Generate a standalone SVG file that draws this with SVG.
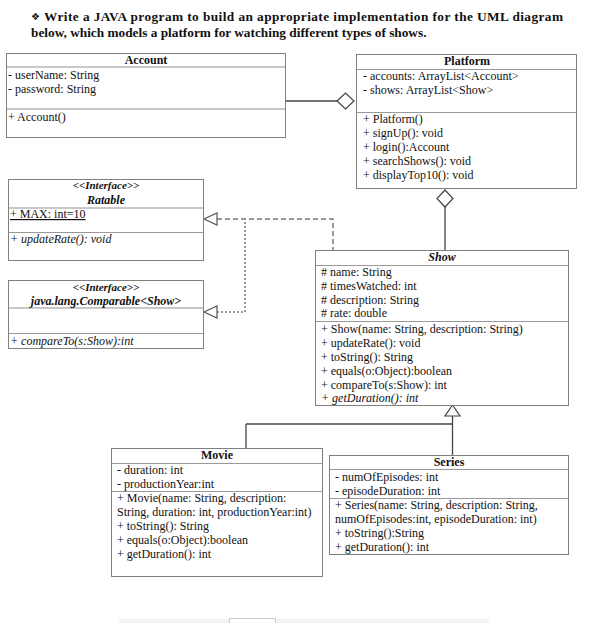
<svg xmlns="http://www.w3.org/2000/svg" width="601" height="623" viewBox="0 0 601 623">
<style>
text{font-family:"Liberation Serif","Times New Roman",serif;font-size:12px;fill:#111}
.t{font-weight:bold;text-anchor:middle}
.bi{font-weight:bold;font-style:italic;text-anchor:middle}
.st{font-weight:bold;font-style:italic;text-anchor:middle;font-size:11px}
.i{font-style:italic}
.ttl{font-family:"Liberation Serif",serif;font-weight:bold;font-size:13.3px}
.sym{font-family:"DejaVu Sans",sans-serif;font-size:10px;font-weight:normal}
.box{fill:#fff;stroke:#808080;stroke-width:1}
.sep{stroke:#999;stroke-width:1;fill:none}
.lsep{stroke:#c8c8c8;stroke-width:2;fill:none}
.con{stroke:#444;stroke-width:1.3;fill:none}
.open{fill:#fff;stroke:#444;stroke-width:1.2}
.dash{stroke:#777;stroke-width:1.5;fill:none;stroke-dasharray:5 3}
.dot{stroke:#777;stroke-width:1.5;fill:none;stroke-dasharray:2 2}
</style>
<rect width="601" height="623" fill="#fff"/>
<g id="title">
<text class="sym" x="31" y="20">❖</text>
<text class="ttl" x="44" y="21" textLength="519" lengthAdjust="spacing">Write a JAVA program to build an appropriate implementation for the UML diagram</text>
<text class="ttl" x="31" y="37">below, which models a platform for watching different types of shows.</text>
</g>
<g id="connectors">
<path class="con" d="M286,101 H337"/>
<polygon class="open" points="337,101 345.5,93 354,101 345.5,109"/>
<path class="con" d="M445,207 V251"/>
<polygon class="open" points="445,190 453,198.5 445,207 437,198.5"/>
<path class="con" d="M452.5,416 V455"/>
<path class="con" d="M246,424 H452.5"/>
<path class="con" d="M246,424 V448"/>
<polygon class="open" points="452.5,405 460,416 445,416"/>
<path class="dash" d="M217,219 H333 V251"/>
<path class="dot" d="M217,312 H245 V219"/>
<polygon class="open" points="204,219 217,213 217,225" style="stroke:#555"/>
<polygon class="open" points="204,312 217,306 217,318" style="stroke:#555"/>
</g>
<g id="Account">
<rect class="box" x="6.5" y="53.5" width="279" height="84"/>
<path class="lsep" d="M7,67 H285 M7,109 H285"/>
<text class="t" x="146" y="64">Account</text>
<text x="8" y="79">- userName: String</text>
<text x="8" y="93">- password: String</text>
<text x="8" y="121">+ Account()</text>
</g>
<g id="Platform">
<rect class="box" x="356.5" y="54.5" width="220" height="134"/>
<path class="sep" d="M357,69.5 H576 M357,112.5 H576"/>
<text class="t" x="467" y="65">Platform</text>
<text x="363" y="80">- accounts: ArrayList&lt;Account&gt;</text>
<text x="363" y="94">- shows: ArrayList&lt;Show&gt;</text>
<text x="363" y="123">+ Platform()</text>
<text x="363" y="137">+ signUp(): void</text>
<text x="363" y="151">+ login():Account</text>
<text x="363" y="165">+ searchShows(): void</text>
<text x="363" y="179">+ displayTop10(): void</text>
</g>
<g id="Ratable">
<rect class="box" x="8.5" y="179.5" width="195" height="81"/>
<path class="lsep" d="M9,208 H203"/>
<path class="sep" d="M9,232.5 H203"/>
<text class="st" x="106" y="189">&lt;&lt;Interface&gt;&gt;</text>
<text class="bi" x="106" y="204">Ratable</text>
<text x="10" y="218" text-decoration="underline">+ MAX: int=10</text>
<text class="i" x="10" y="243">+ updateRate(): void</text>
</g>
<g id="Comparable">
<rect class="box" x="8.5" y="280.5" width="195" height="68"/>
<path class="lsep" d="M9,308 H203"/>
<path class="sep" d="M9,333.5 H203"/>
<text class="st" x="106" y="291">&lt;&lt;Interface&gt;&gt;</text>
<text class="bi" x="106" y="305">java.lang.Comparable&lt;Show&gt;</text>
<text class="i" x="10" y="345">+ compareTo(s:Show):int</text>
</g>
<g id="Show">
<rect class="box" x="315.5" y="250.5" width="253" height="155"/>
<path class="sep" d="M316,265.5 H568 M316,321.5 H568"/>
<text class="bi" x="442" y="261">Show</text>
<text x="321" y="276"># name: String</text>
<text x="321" y="290"># timesWatched: int</text>
<text x="321" y="304"># description: String</text>
<text x="321" y="317"># rate: double</text>
<text x="321" y="333">+ Show(name: String, description: String)</text>
<text x="321" y="347">+ updateRate(): void</text>
<text x="321" y="361">+ toString(): String</text>
<text x="321" y="375">+ equals(o:Object):boolean</text>
<text x="321" y="389">+ compareTo(s:Show): int</text>
<text class="i" x="321" y="402">+ getDuration(): int</text>
</g>
<g id="Movie">
<rect class="box" x="111.5" y="448.5" width="211" height="128"/>
<path class="sep" d="M112,463.5 H322 M112,491.5 H322"/>
<text class="t" x="217" y="459">Movie</text>
<text x="117" y="474">- duration: int</text>
<text x="117" y="488">- productionYear:int</text>
<text x="117" y="502">+ Movie(name: String, description:</text>
<text x="117" y="516">String, duration: int, productionYear:int)</text>
<text x="117" y="530">+ toString(): String</text>
<text x="117" y="544">+ equals(o:Object):boolean</text>
<text x="117" y="558">+ getDuration(): int</text>
</g>
<g id="Series">
<rect class="box" x="329.5" y="455.5" width="239" height="99"/>
<path class="sep" d="M330,469.5 H568 M330,498.5 H568"/>
<text class="t" x="449" y="466">Series</text>
<text x="335" y="481">- numOfEpisodes: int</text>
<text x="335" y="495">- episodeDuration: int</text>
<text x="335" y="509">+ Series(name: String, description: String,</text>
<text x="335" y="523">numOfEpisodes:int, episodeDuration: int)</text>
<text x="335" y="537">+ toString():String</text>
<text x="335" y="551">+ getDuration(): int</text>
</g>
<g id="footer">
<rect x="119" y="619" width="370" height="4" fill="#f2f2f0"/>
<rect x="229.5" y="618.5" width="46" height="5" fill="#fff" stroke="#c8c8c8"/>
</g>
</svg>
